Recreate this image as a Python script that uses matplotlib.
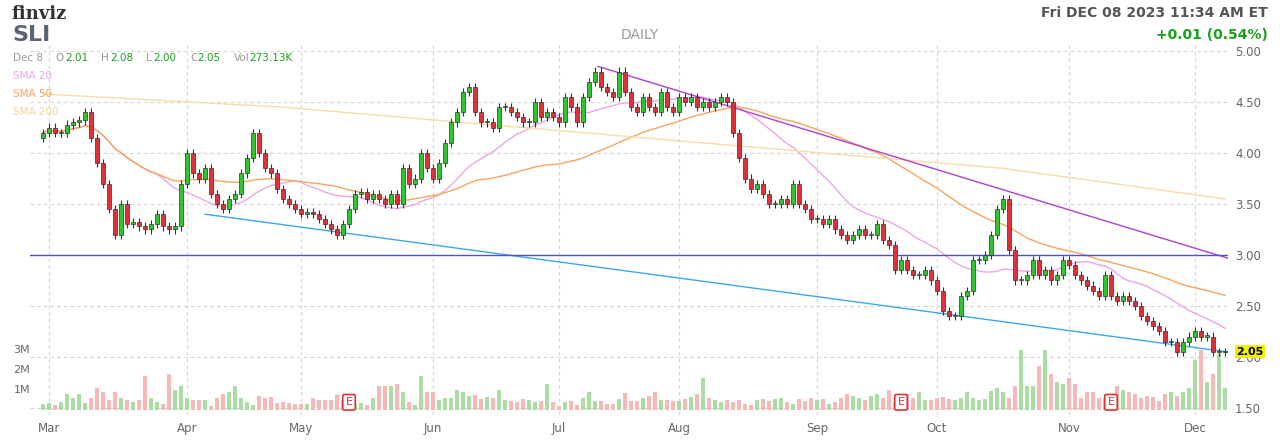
import numpy as np, pandas as pd
import matplotlib
matplotlib.use("Agg")
import matplotlib.pyplot as plt

closes = [4.20,4.25,4.20,
 4.20,4.28,4.30,4.32,4.40,4.15,3.90,3.70,3.45,3.20,
 3.50,3.30,3.32,3.28,3.25,3.30,3.40,3.28,3.25,3.28,
 3.70,4.00,3.80,3.75,3.85,3.60,3.50,3.45,3.55,3.60,
 3.80,3.95,4.20,4.00,3.85,3.80,3.65,3.55,3.50,3.45,
 3.40,3.42,3.40,3.35,3.30,3.25,3.20,3.30,3.45,3.60,
 3.62,3.55,3.60,3.55,3.50,3.60,3.50,3.85,3.70,3.75,
 4.00,3.85,3.75,3.90,4.10,4.30,4.40,4.60,4.65,4.40,
 4.30,4.30,4.25,4.45,4.45,4.40,4.35,4.30,4.30,4.50,
 4.35,4.40,4.35,4.30,
 4.55,4.45,4.30,4.55,4.70,4.80,4.65,4.60,4.55,4.80,
 4.60,4.45,4.40,4.55,4.45,4.40,4.60,4.45,4.40,4.55,
 4.50,4.55,4.45,4.50,4.45,4.50,4.55,4.50,4.20,3.95,3.75,3.65,3.70,
 3.60,3.50,3.50,3.55,3.50,3.70,3.50,3.45,3.35,3.35,
 3.30,3.35,3.25,3.20,3.15,3.20,
 3.25,3.20,3.20,3.30,3.15,3.10,2.85,2.95,2.85,2.80,
 2.80,2.85,2.75,2.65,2.45,2.40,2.40,2.60,2.65,2.95,
 2.95,3.00,3.20,3.45,3.55,3.05,2.75,2.75,2.80,2.95,
 2.80,2.85,2.75,2.80,2.95,2.90,2.80,
 2.75,2.70,2.65,2.60,2.80,2.60,2.55,2.60,2.55,2.50,
 2.40,2.35,2.30,2.25,2.15,2.15,2.05,2.15,2.20,2.25,
 2.20,2.20,2.05,2.05,2.05]
opens = [4.15] + closes[:-1]
volumes = [0.3,0.35,0.25,
 0.4,0.8,0.6,0.8,0.35,0.6,1.1,0.9,0.5,0.9,
 0.6,0.5,0.4,0.5,1.7,0.6,0.4,0.3,1.8,1.0,
 1.2,0.6,0.5,0.5,0.5,0.2,0.6,0.8,0.9,1.2,
 0.6,0.4,0.25,0.7,0.6,0.65,0.35,0.4,0.35,0.3,
 0.3,0.3,0.6,0.5,0.5,0.5,0.75,0.5,0.4,0.3,
 0.35,0.25,0.6,1.2,1.2,1.2,1.3,0.9,0.4,0.25,
 1.7,0.9,0.9,0.5,0.6,0.6,1.0,0.9,0.7,0.75,
 0.55,0.65,0.6,1.0,0.5,0.45,0.4,0.55,0.5,0.4,
 0.45,1.3,0.4,0.2,
 0.4,0.45,0.25,0.6,0.9,0.45,0.45,0.3,0.3,0.55,
 0.85,0.45,0.45,0.6,0.7,0.9,0.5,0.5,0.45,0.45,
 0.55,0.65,0.8,1.6,0.6,0.5,0.4,0.5,0.4,0.5,0.3,0.25,0.5,
 0.55,0.45,0.55,0.6,0.4,0.3,0.55,0.45,0.6,0.5,
 0.55,0.3,0.4,0.6,0.8,0.7,
 0.6,0.5,0.7,0.8,0.6,1.0,0.4,0.5,0.8,0.6,
 0.9,0.5,0.5,0.6,0.65,0.55,0.5,0.6,0.9,0.6,
 0.5,0.55,0.95,1.1,0.9,0.6,1.2,3.0,1.2,1.2,
 2.2,3.0,1.8,1.4,1.3,1.6,1.3,
 0.6,0.9,0.9,0.6,0.6,0.8,1.2,1.0,0.9,0.8,
 0.6,0.7,0.65,0.45,0.8,0.9,0.7,0.9,1.1,2.5,
 3.0,1.4,1.8,2.8,1.1]
sma200_back = [197, 157, 117, 77, 37, 0]
sma200_val = [4.58, 4.45, 4.25, 4.05, 3.85, 3.55]
earnings_back = [146, 54, 19]

holidays = ["2023-04-07", "2023-05-29", "2023-06-19", "2023-07-04", "2023-09-04", "2023-11-23"]
n = min(len(closes), len(volumes))
closes = np.array(closes[-n:]); opens = np.array(opens[-n:]); volumes = np.array(volumes[-n:])
alld = pd.bdate_range(start="2023-01-02", end="2023-12-08", freq="C", holidays=holidays)
dates = alld[-n:]
x = np.arange(n)
s = pd.Series(closes)
sma20 = s.rolling(20, min_periods=1).mean()
sma50 = s.rolling(50, min_periods=1).mean()

fig = plt.figure(figsize=(12.8, 4.4), dpi=100)
L, R = 30, 1228
ax = fig.add_axes([L/1280, 25/440, (R-L)/1280, 370/440])
ax.set_facecolor("white")
ax.set_ylim(1.43, 5.06)
pxd = 6.0
last_px = 1225
ax.set_xlim((n-1) - (last_px - L)/pxd, (n-1) + (R - last_px)/pxd)

for yv in np.arange(1.5, 5.01, 0.5):
    ax.axhline(yv, color="#d4d4d4", lw=0.8, ls=(0, (3, 3)), zorder=0)
month_starts = [i for i in range(1, n) if dates[i].month != dates[i-1].month]
for i in month_starts:
    ax.axvline(i, color="#d4d4d4", lw=0.8, ls=(0, (3, 3)), zorder=0)

vbase = 1.48; vscale = 0.196
for i in range(n):
    c = "#a9dda1" if closes[i] >= opens[i] else "#f7b8b8"
    ax.bar(x[i], volumes[i]*vscale, bottom=vbase, width=0.75, color=c, zorder=1)
for b in earnings_back:
    ax.text(n-1-b, vbase+0.075, "E", ha="center", va="center", fontsize=8, color="#e03030",
            bbox=dict(boxstyle="round,pad=0.25,rounding_size=0.15", fc="white", ec="#e03030", lw=1.2), zorder=5)

ax.plot(x, sma20, color="#eaa6e6", lw=1, zorder=2)
ax.plot(x, sma50, color="#f6a460", lw=1, zorder=2)
ax.plot([n-1-b for b in sma200_back], sma200_val, color="#f8dba6", lw=1, zorder=2)

ax.plot([n-1-170, n+0.5], [3.40, 2.04], color="#3aa8f0", lw=1, zorder=3)
ax.plot([n-1-104.5, n+0.5], [4.85, 2.95], color="#b040d0", lw=1, zorder=3)
ax.axhline(3.0, color="#5050c8", lw=1, zorder=3)

for i in range(n):
    o, c = opens[i], closes[i]
    col = "#2fc52f" if c >= o else "#e0303a"
    hi = max(o, c) + 0.04; lo = min(o, c) - 0.04
    ax.vlines(x[i], lo, hi, color="#333333", lw=0.8, zorder=4)
    ax.bar(x[i], max(abs(c-o), 0.01), bottom=min(o, c), width=0.75, color=col,
           edgecolor="#333333", lw=0.5, zorder=5)

ax.yaxis.tick_right()
yt = np.arange(1.5, 5.01, 0.5)
ax.set_yticks(yt)
ax.set_yticklabels([f"{v:.2f}" for v in yt], fontsize=8.5, color="#666666")
ax.set_xticks(month_starts)
ax.set_xticklabels([dates[i].strftime("%b") for i in month_starts], fontsize=8.5, color="#666666")
ax.tick_params(length=0, pad=5)
for sp in ax.spines.values():
    sp.set_visible(False)

for lab, v in [("3M", 3), ("2M", 2), ("1M", 1)]:
    ax.annotate(lab, xy=(0, vbase + v*vscale), xycoords=("axes fraction", "data"),
                xytext=(-12, 0), textcoords="offset points", ha="left", va="center",
                fontsize=8, color="#666666")
ax.text(n + 0.9, closes[-1], f"{closes[-1]:.2f}", ha="left", va="center", fontsize=8, weight="bold",
        bbox=dict(boxstyle="square,pad=0.15", fc="#f0f000", ec="none"), clip_on=False, zorder=10)

fig.text(12/1280, 1-14/440, "finviz", fontsize=13, weight="bold", family="DejaVu Serif", color="#333333", va="center")
fig.text(12/1280, 1-35/440, "SLI", fontsize=16, weight="bold", color="#5a6275", va="center")
fig.text(640/1280, 1-35/440, "DAILY", fontsize=10, color="#999999", ha="center", va="center")
fig.text(1268/1280, 1-13/440, "Fri DEC 08 2023 11:34 AM ET", fontsize=10, weight="bold", color="#555555", ha="right", va="center")
fig.text(1268/1280, 1-35/440, "+0.01 (0.54%)", fontsize=10, weight="bold", color="#1aa01a", ha="right", va="center")
y0 = 1-58/440
parts = [("Dec 8", "#999999", 13), ("O", "#999999", 55), ("2.01", "#1aa01a", 65), ("H", "#999999", 101),
         ("2.08", "#1aa01a", 110), ("L", "#999999", 146), ("2.00", "#1aa01a", 153), ("C", "#999999", 190),
         ("2.05", "#1aa01a", 197), ("Vol", "#999999", 234), ("273.13K", "#1aa01a", 249)]
for t, c, xp in parts:
    fig.text(xp/1280, y0, t, fontsize=7.5, color=c, va="center")
fig.text(13/1280, 1-76/440, "SMA 20", fontsize=7.5, color="#eaa6e6", va="center")
fig.text(13/1280, 1-94/440, "SMA 50", fontsize=7.5, color="#f6a460", va="center")
fig.text(13/1280, 1-112/440, "SMA 200", fontsize=7.5, color="#f8d0a0", va="center")

fig.savefig("out.png", dpi=100, facecolor="white")
